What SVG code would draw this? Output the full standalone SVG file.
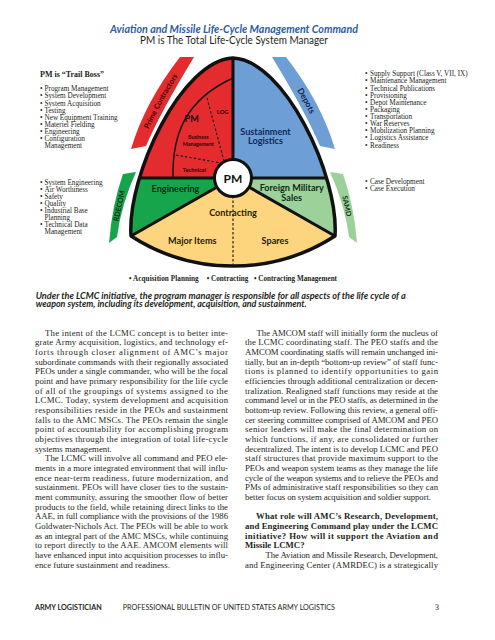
<svg xmlns="http://www.w3.org/2000/svg" width="495" height="640" viewBox="0 0 495 640">
<style>
text{fill:#231f20}
.serif{font-family:"Liberation Serif","Times New Roman",serif}
.sans{font-family:Lato,"Open Sans","Liberation Sans",sans-serif}
.body{font-family:"Liberation Serif","Times New Roman",serif;font-size:8.75px}
.bh{font-weight:700}
.li{font-family:"Liberation Serif","Times New Roman",serif;font-size:7.2px}
.lab{font-family:Lato,"Open Sans","Liberation Sans",sans-serif;font-weight:700;text-anchor:middle}
.big{font-size:9.1px}
.tiny{font-size:5.3px}
.div{stroke:#111;stroke-width:3;fill:none}
.dash{stroke:#111;stroke-width:1.1;fill:none;stroke-dasharray:2.5 2}
</style>
<defs>
<clipPath id="tri"><path d="M131 236 C127 175 182 60 233 58 C284 60 339 175 335 236 A188 188 0 0 1 131 236Z"/></clipPath>
<path id="pcPath" d="M140.9 148.8 Q154.9 108.8 189.4 58.3"/>
<path id="dpPath" d="M276.6 58.3 Q311.1 108.8 325.1 148.8"/>
</defs>

<g id="title">
<text class="sans" x="234" y="32.5" text-anchor="middle" font-size="11" font-weight="700" font-style="italic" style="fill:#2d5ca8" textLength="248" lengthAdjust="spacingAndGlyphs">Aviation and Missile Life-Cycle Management Command</text>
<text class="sans" x="234" y="44" text-anchor="middle" font-size="10.5" textLength="188" lengthAdjust="spacingAndGlyphs">PM is The Total Life-Cycle System Manager</text>
</g>

<g id="list-pm">
<text class="serif" x="40" y="76.5" font-size="8" font-weight="700">PM is “Trail Boss”</text>
<g class="li">
<text x="40" y="91.3">•</text><text x="44.5" y="91.3">Program Management</text>
<text x="40" y="98.4">•</text><text x="44.5" y="98.4">System Development</text>
<text x="40" y="105.5">•</text><text x="44.5" y="105.5">System Acquisition</text>
<text x="40" y="112.7">•</text><text x="44.5" y="112.7">Testing</text>
<text x="40" y="119.8">•</text><text x="44.5" y="119.8">New Equipment Training</text>
<text x="40" y="126.9">•</text><text x="44.5" y="126.9">Materiel Fielding</text>
<text x="40" y="134">•</text><text x="44.5" y="134">Engineering</text>
<text x="40" y="141.1">•</text><text x="44.5" y="141.1">Configuration</text>
<text x="44.5" y="148.3">Management</text>
</g>
</g>

<g id="list-eng" class="li">
<text x="40" y="184.5">•</text><text x="44.5" y="184.5">System Engineering</text>
<text x="40" y="191.6">•</text><text x="44.5" y="191.6">Air Worthiness</text>
<text x="40" y="198.7">•</text><text x="44.5" y="198.7">Safety</text>
<text x="40" y="205.9">•</text><text x="44.5" y="205.9">Quality</text>
<text x="40" y="213">•</text><text x="44.5" y="213">Industrial Base</text>
<text x="44.5" y="220.1">Planning</text>
<text x="40" y="227.2">•</text><text x="44.5" y="227.2">Technical Data</text>
<text x="44.5" y="234.3">Management</text>
</g>

<g id="list-sust" class="li">
<text x="365" y="76.3">•</text><text x="370" y="76.3">Supply Support (Class V, VII, IX)</text>
<text x="365" y="83.4">•</text><text x="370" y="83.4">Maintenance Management</text>
<text x="365" y="90.5">•</text><text x="370" y="90.5">Technical Publications</text>
<text x="365" y="97.7">•</text><text x="370" y="97.7">Provisioning</text>
<text x="365" y="104.8">•</text><text x="370" y="104.8">Depot Maintenance</text>
<text x="365" y="111.9">•</text><text x="370" y="111.9">Packaging</text>
<text x="365" y="119">•</text><text x="370" y="119">Transportation</text>
<text x="365" y="126.1">•</text><text x="370" y="126.1">War Reserves</text>
<text x="365" y="133.3">•</text><text x="370" y="133.3">Mobilization Planning</text>
<text x="365" y="140.4">•</text><text x="370" y="140.4">Logistics Assistance</text>
<text x="365" y="147.5">•</text><text x="370" y="147.5">Readiness</text>
</g>

<g id="list-fms" class="li">
<text x="365" y="183.5">•</text><text x="370" y="183.5">Case Development</text>
<text x="365" y="190.6">•</text><text x="370" y="190.6">Case Execution</text>
</g>

<g id="band-prime">
<path d="M131 149 Q145 102 180 57 L194 57 Q160 113 146 146 Z" fill="#e42b2d"/>
<text class="lab" font-size="7.5" style="fill:#3a0606"><textPath href="#pcPath" startOffset="50%">Prime Contractors</textPath></text>
</g>
<g id="band-depots">
<path d="M335 149 Q321 102 286 57 L272 57 Q306 113 320 146 Z" fill="#6d9fd6"/>
<text class="lab" font-size="8.5" style="fill:#13284f"><textPath href="#dpPath" startOffset="50%">Depots</textPath></text>
</g>
<g id="band-rdecom">
<path d="M123 174 Q112 205 109 243 L117 237 Q121 205 136 172 Z" fill="#17a54b"/>
<text class="lab" font-size="7.2" transform="translate(119,206) rotate(-78)" y="2.6" style="fill:#0c2a14">RDECOM</text>
</g>
<g id="band-samd">
<path d="M343 174 Q354 205 357 243 L349 237 Q345 205 330 172 Z" fill="#9dd19a"/>
<text class="lab" font-size="7.2" transform="translate(347,206) rotate(78)" y="2.6" style="fill:#173a1a">SAMD</text>
</g>

<g id="node-pm-region">
<rect x="90" y="40" width="143" height="138" fill="#e42b2d" clip-path="url(#tri)"/>
<path d="M173 178 C172 135 185 100 233 78" stroke="#111" stroke-width="1.4" fill="none"/>
<path class="dash" d="M207 98 L224 161"/>
<path class="dash" d="M176 155 L221 163"/>
<text class="lab" x="191.7" y="121.6" font-size="9.2" style="fill:#2a0606">PM</text>
<text class="lab" x="222.7" y="113.8" font-size="5.8" style="fill:#2a0606">LOG</text>
<text class="lab tiny" x="198.3" y="139.4" style="fill:#2a0606">Business</text>
<text class="lab tiny" x="198.3" y="145.8" style="fill:#2a0606">Management</text>
<text class="lab" x="194.3" y="172" font-size="5.6" style="fill:#2a0606">Technical</text>
</g>

<g id="node-sustainment">
<rect x="233" y="40" width="150" height="138" fill="#6d9fd6" clip-path="url(#tri)"/>
<text class="lab big" x="265.5" y="134.5" style="fill:#10275a">Sustainment</text>
<text class="lab big" x="265.5" y="144.2" style="fill:#10275a">Logistics</text>
</g>

<g id="node-engineering">
<polygon points="233,178 90,178 90,259.3" fill="#17a54b" clip-path="url(#tri)"/>
<text class="lab big" x="175.5" y="191.6" style="fill:#0c2a14">Engineering</text>
</g>

<g id="node-fms">
<polygon points="233,178 380,178 380,261.6" fill="#9dd19a" clip-path="url(#tri)"/>
<text class="lab big" x="291.7" y="190.8" style="fill:#0f2a15">Foreign Military</text>
<text class="lab big" x="291.7" y="200.6" style="fill:#0f2a15">Sales</text>
</g>

<g id="node-contracting">
<polygon points="233,178 90,259.3 90,310 380,310 380,261.6" fill="#fdd57e" clip-path="url(#tri)"/>
<text class="lab big" x="233" y="216" style="fill:#1e1a12">Contracting</text>
<text class="lab big" x="192.3" y="243.5" style="fill:#1e1a12">Major Items</text>
<text class="lab big" x="275" y="243.5" style="fill:#1e1a12">Spares</text>
</g>

<g id="connectors">
<g clip-path="url(#tri)">
<path class="div" d="M120 178 H346"/>
<path class="div" d="M233 50 V178"/>
<path class="div" d="M233 178 L131 236"/>
<path class="div" d="M233 178 L335 236"/>
<path class="dash" d="M233 196 V270"/>
</g>
<path d="M131 236 C127 175 182 60 233 58 C284 60 339 175 335 236 A188 188 0 0 1 131 236Z" fill="none" stroke="#111" stroke-width="3.5" stroke-linejoin="round"/>
</g>

<g id="node-pm-center">
<circle cx="233" cy="178" r="18.5" fill="#fff" stroke="#111" stroke-width="3"/>
<text class="lab" x="233" y="182.6" font-size="12" style="fill:#111">PM</text>
</g>

<g id="contracting-list" class="serif" font-size="7.2" font-weight="700">
<text x="129" y="280.6" textLength="69.7">• Acquisition Planning</text>
<text x="206.7" y="280.6" textLength="41.6">• Contracting</text>
<text x="254" y="280.6" textLength="83">• Contracting Management</text>
</g>

<g id="caption" class="sans" font-weight="700" font-style="italic" font-size="8.6">
<text x="35.7" y="298.6" textLength="370" lengthAdjust="spacingAndGlyphs">Under the LCMC initiative, the program manager is responsible for all aspects of the life cycle of a</text>
<text x="35.7" y="307.2" textLength="271" lengthAdjust="spacingAndGlyphs">weapon system, including its development, acquisition, and sustainment.</text>
</g>

<g id="col-left" class="body">
<text x="45" y="335.5" textLength="183">The intent of the LCMC concept is to better inte-</text>
<text x="35" y="345.18" textLength="193">grate Army acquisition, logistics, and technology ef-</text>
<text x="35" y="354.86" textLength="193">forts through closer alignment of AMC’s major</text>
<text x="35" y="364.54" textLength="193">subordinate commands with their regionally associated</text>
<text x="35" y="374.22" textLength="193">PEOs under a single commander, who will be the focal</text>
<text x="35" y="383.9" textLength="193">point and have primary responsibility for the life cycle</text>
<text x="35" y="393.58" textLength="193">of all of the groupings of systems assigned to the</text>
<text x="35" y="403.26" textLength="193">LCMC.  Today, system development and acquisition</text>
<text x="35" y="412.94" textLength="193">responsibilities reside in the PEOs and sustainment</text>
<text x="35" y="422.62" textLength="193">falls to the AMC MSCs.  The PEOs remain the single</text>
<text x="35" y="432.3" textLength="193">point of accountability for accomplishing program</text>
<text x="35" y="441.98" textLength="193">objectives through the integration of total life-cycle</text>
<text x="35" y="451.66">systems management.</text>
<text x="45" y="461.34" textLength="183">The LCMC will involve all command and PEO ele-</text>
<text x="35" y="471.02" textLength="193">ments in a more integrated environment that will influ-</text>
<text x="35" y="480.7" textLength="193">ence near-term readiness, future modernization, and</text>
<text x="35" y="490.38" textLength="193">sustainment.  PEOs will have closer ties to the sustain-</text>
<text x="35" y="500.06" textLength="193">ment community, assuring the smoother flow of better</text>
<text x="35" y="509.74" textLength="193">products to the field, while retaining direct links to the</text>
<text x="35" y="519.42" textLength="193">AAE, in full compliance with the provisions of the 1986</text>
<text x="35" y="529.1" textLength="193">Goldwater-Nichols Act.  The PEOs will be able to work</text>
<text x="35" y="538.78" textLength="193">as an integral part of the AMC MSCs, while continuing</text>
<text x="35" y="548.46" textLength="193">to report directly to the AAE.  AMCOM elements will</text>
<text x="35" y="558.14" textLength="193">have enhanced input into acquisition processes to influ-</text>
<text x="35" y="567.82">ence future sustainment and readiness.</text>
</g>

<g id="col-right" class="body">
<text x="256.5" y="335.5" textLength="181.5">The AMCOM staff will initially form the nucleus of</text>
<text x="245" y="345.18" textLength="193">the LCMC coordinating staff.  The PEO staffs and the</text>
<text x="245" y="354.86" textLength="193">AMCOM coordinating staffs will remain unchanged ini-</text>
<text x="245" y="364.54" textLength="193">tially, but an in-depth “bottom-up review” of staff func-</text>
<text x="245" y="374.22" textLength="193">tions is planned to identify opportunities to gain</text>
<text x="245" y="383.9" textLength="193">efficiencies through additional centralization or decen-</text>
<text x="245" y="393.58" textLength="193">tralization.  Realigned staff functions may reside at the</text>
<text x="245" y="403.26" textLength="193">command level or in the PEO staffs, as determined in the</text>
<text x="245" y="412.94" textLength="193">bottom-up review.  Following this review, a general offi-</text>
<text x="245" y="422.62" textLength="193">cer steering committee comprised of AMCOM and PEO</text>
<text x="245" y="432.3" textLength="193">senior leaders will make the final determination on</text>
<text x="245" y="441.98" textLength="193">which functions, if any, are consolidated or further</text>
<text x="245" y="451.66" textLength="193">decentralized.  The intent is to develop LCMC and PEO</text>
<text x="245" y="461.34" textLength="193">staff structures that provide maximum support to the</text>
<text x="245" y="471.02" textLength="193">PEOs and weapon system teams as they manage the life</text>
<text x="245" y="480.7" textLength="193">cycle of the weapon systems and to relieve the PEOs and</text>
<text x="245" y="490.38" textLength="193">PMs of administrative staff responsibilities so they can</text>
<text x="245" y="500.06" textLength="186">better focus on system acquisition and soldier support.</text>
<text class="bh" x="256" y="519.42" textLength="182">What role will AMC’s Research, Development,</text>
<text class="bh" x="245" y="529.1" textLength="193">and Engineering Command play under the LCMC</text>
<text class="bh" x="245" y="538.78" textLength="193">initiative?  How will it support the Aviation and</text>
<text class="bh" x="245" y="548.46">Missile LCMC?</text>
<text x="265.5" y="558.14" textLength="172.5">The Aviation and Missile Research, Development,</text>
<text x="245" y="567.82" textLength="193">and Engineering Center (AMRDEC) is a strategically</text>
</g>

<g id="footer">
<text class="sans" x="35" y="609.6" font-size="7.5" font-weight="700" textLength="66.7" lengthAdjust="spacingAndGlyphs">ARMY LOGISTICIAN</text>
<text class="sans" x="122.7" y="609.6" font-size="7.3" textLength="212.3" lengthAdjust="spacingAndGlyphs">PROFESSIONAL BULLETIN OF UNITED STATES ARMY LOGISTICS</text>
<text class="serif" x="439" y="609.6" font-size="8" text-anchor="end">3</text>
</g>
</svg>
